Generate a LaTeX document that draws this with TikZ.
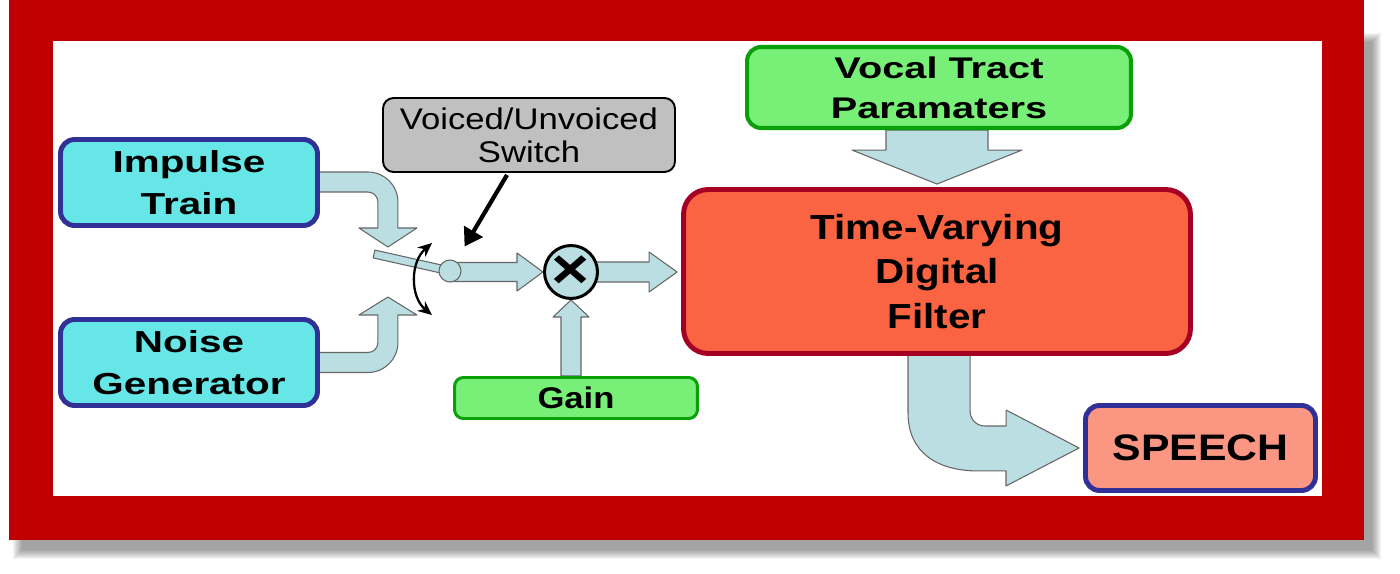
\documentclass[tikz,border=0pt]{standalone}
\usepackage{fontspec}
\setmainfont{Liberation Sans}[FakeStretch=1.16]
\newfontfamily\widesans{Liberation Sans}[FakeStretch=1.33]
\usetikzlibrary{positioning,calc,arrows.meta,backgrounds}

\definecolor{frameRed}{RGB}{192,0,0}
\definecolor{srcFill}{RGB}{102,230,230}
\definecolor{srcLine}{RGB}{48,48,150}
\definecolor{swFill}{RGB}{192,192,192}
\definecolor{grnFill}{RGB}{120,240,120}
\definecolor{grnLine}{RGB}{10,160,10}
\definecolor{filtFill}{RGB}{250,100,66}
\definecolor{filtLine}{RGB}{165,0,35}
\definecolor{spFill}{RGB}{250,150,130}
\definecolor{flowFill}{RGB}{186,222,226}

\begin{document}
\begin{tikzpicture}[x=0.02cm, y=-0.02cm,
  %--- block styles ---
  blk/.style={align=center, inner sep=2pt, text=black},
  src/.style={blk, draw=srcLine, fill=srcFill, line width=2.8pt, rounded corners=8pt,
    minimum width=5.14cm, minimum height=1.72cm,
    font=\widesans\fontsize{17.3}{23.8}\selectfont\bfseries},
  grn/.style={blk, draw=grnLine, fill=grnFill, rounded corners=8pt},
  vt/.style={grn, line width=2.3pt, minimum width=7.68cm, minimum height=1.62cm,
    font=\widesans\fontsize{17}{22.7}\selectfont\bfseries},
  gn/.style={grn, line width=1.7pt, rounded corners=5pt, minimum width=4.86cm,
    minimum height=0.82cm, font=\fontsize{17}{20}\selectfont\bfseries},
  sw/.style={blk, draw=black, fill=swFill, line width=1.1pt, rounded corners=6pt,
    minimum width=5.84cm, minimum height=1.48cm, font=\fontsize{17}{18.7}\selectfont},
  filt/.style={blk, draw=filtLine, fill=filtFill, line width=2.8pt, rounded corners=14pt,
    minimum width=10.14cm, minimum height=3.28cm, font=\fontsize{19.8}{25.3}\selectfont\bfseries},
  spch/.style={blk, draw=srcLine, fill=spFill, line width=2.8pt, rounded corners=8pt,
    minimum width=4.6cm, minimum height=1.7cm, font=\fontsize{21}{24}\selectfont\bfseries},
  mul/.style={circle, draw=black, fill=flowFill, line width=1.7pt, minimum size=1.06cm,
    inner sep=0pt, font=\fontsize{32}{32}\selectfont\bfseries},
  piv/.style={circle, draw=black!60, fill=flowFill, line width=0.6pt, minimum size=0.44cm,
    inner sep=0pt},
  %--- arrows ---
  flow/.style={fill=flowFill, draw=black!60, line width=0.6pt, line join=round},
  ptr/.style={line width=2.4pt, -{Triangle[length=10pt,width=12pt]}, shorten >=0.34cm},
  swing/.style={line width=1.3pt, {Stealth[length=8pt,width=7pt]}-{Stealth[length=8pt,width=7pt]}}
]
\useasboundingbox (0,0) rectangle (1400,574);

%% ── FRAME: shadow, red border, white panel ─────────────────────────────────
\begin{scope}[on background layer]
  \foreach \k in {0,...,9}
    \fill[black, opacity=0.045] (22-\k,42-\k) rectangle (1372+\k,550+\k);
  \fill[frameRed] (9,0) rectangle (1364,540);
  \fill[white] (53,41) rectangle (1322,496);
\end{scope}

%% ── BLOCKS ──────────────────────────────────────────────────────────────────
\node[src] (imp) at (189,182.5) {Impulse\\Train};
\node[src] (noise) at (189,362.5) {Noise\\Generator};
\node[sw] (sw) at (529,135) {Voiced/Unvoiced\\Switch};
\node[vt] (vocal) at (939,87.5) {Vocal Tract\\Paramaters};
\node[filt] (filt) at (937,271.5) {Time-Varying\\Digital\\Filter};
\node[gn] (gain) at (576,398) {Gain};
\node[spch] (speech) at (1200.5,448) {SPEECH};
\node[mul] (mult) at (571,272) {×};
\node[piv] (pivot) at (450,271) {};

\coordinate (swtop) at ($(pivot)+(-18,-28)$);
\coordinate (swbot) at ($(pivot)+(-18,44)$);

%% ── BLOCK ARROWS (under the blocks) ─────────────────────────────────────────
\begin{scope}[on background layer]
  % impulse train -> switch
  \draw[flow] ($(imp.east)+(-3,-10.5)$) -- ++(51,0)
    .. controls +(16.6,0) and +(0,-16.6) .. ++(30,30) -- ++(0,26) -- ++(19,0)
    -- ++(-29,19) -- ++(-29,-19) -- ++(19,0) -- ++(0,-26)
    .. controls +(0,-5.5) and +(5.5,0) .. ++(-10,-10) -- ++(-51,0) -- cycle;
  % noise generator -> switch
  \draw[flow] ($(noise.east)+(-3,10)$) -- ++(51,0)
    .. controls +(16.6,0) and +(0,16.6) .. ++(30,-30) -- ++(0,-27.5) -- ++(19,0)
    -- ++(-29,-18) -- ++(-29,18) -- ++(19,0) -- ++(0,27.5)
    .. controls +(0,5.5) and +(5.5,0) .. ++(-10,10) -- ++(-51,0) -- cycle;
  % switch lever
  \draw[flow] ($(pivot.center)+(0.87,-3.9)$) -- ++(-76,-17) -- ++(-1.74,7.8) -- ++(76,17) -- cycle;
  % switch -> multiplier
  \draw[flow] (mult.west) -- ++(-26,-19) -- ++(0,9.5) -- ($(pivot.center |- mult.west)+(0,-9.5)$)
    -- ++(0,19) -- ($(mult.west)+(-26,9.5)$) -- ++(0,9.5) -- cycle;
  % multiplier -> filter
  \draw[flow] ($(filt.west |- mult.east)+(-4,0)$) -- ++(-28,-20) -- ++(0,10)
    -- ($(mult.east)+(-3,-10)$) -- ++(0,20) -- ($(filt.west |- mult.east)+(-32,10)$)
    -- ++(0,10) -- cycle;
  % gain -> multiplier
  \draw[flow] (mult.south) -- ++(18,17) -- ++(-8,0) -- ($(mult.south |- gain.north)+(10,0)$)
    -- ++(-20,0) |- ($(mult.south)+(-18,17)$) -- cycle;
  % vocal tract parameters -> filter
  \draw[flow] ($(filt.north)+(0,-3)$) -- ++(-85,-34) -- ++(34,0)
    -- ($(filt.north |- vocal.south)+(-51,0)$) -- ++(102,0)
    -- ($(filt.north)+(51,-37)$) -- ++(34,0) -- cycle;
  % filter -> speech
  \draw[flow] ($(filt.south)+(-29,-3)$) -- ++(0,60)
    .. controls +(0,40) and +(-40,0) .. ++(70,58) -- ++(28,0) -- ++(0,15)
    -- ($(speech.west)+(-4,0)$) -- ++(-73,-38) -- ++(0,16) -- ++(-21,0)
    .. controls +(-9,0) and +(0,8) .. ++(-15,-15) -- ++(0,-58) -- cycle;
\end{scope}

%% ── SWITCH POINTER ──────────────────────────────────────────────────────────
\draw[ptr] ($(sw.south)+(-22,2)$) -- (pivot);
\draw[swing] (swtop) .. controls +(-22,19) and +(-22,-18) .. (swbot);
\end{tikzpicture}
\end{document}
